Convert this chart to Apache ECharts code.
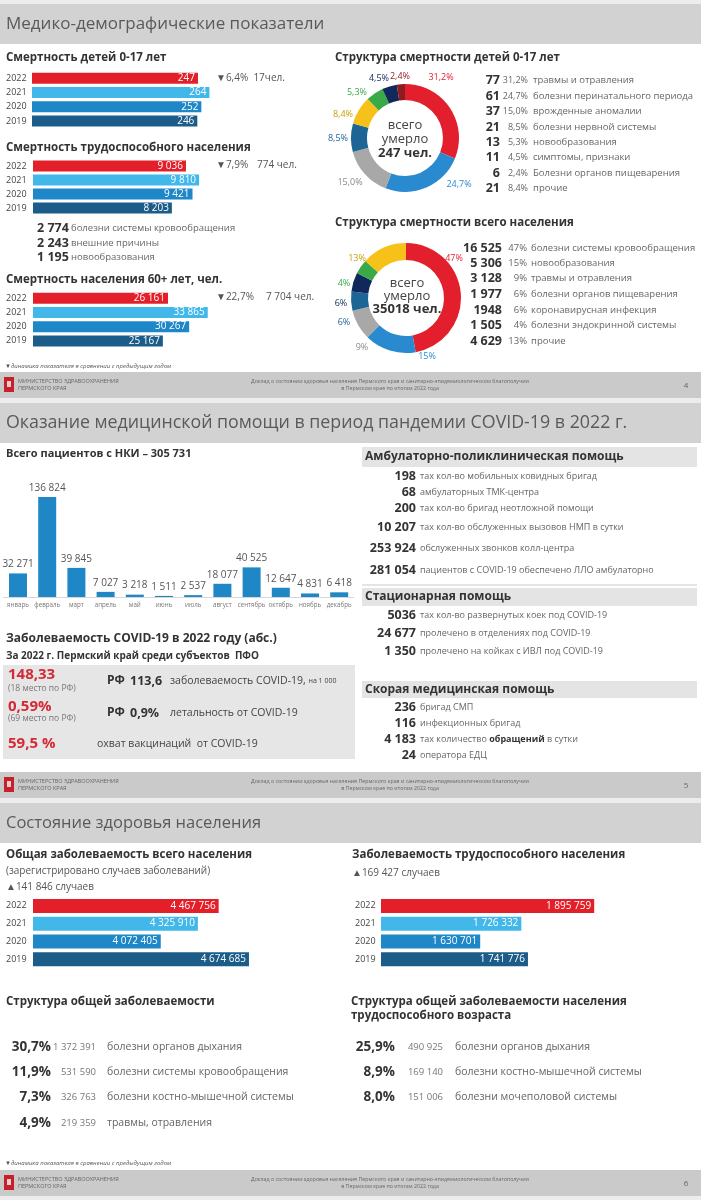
<!DOCTYPE html>
<html><head><meta charset="utf-8">
<script src="https://cdn.jsdelivr.net/npm/echarts@6/dist/echarts.min.js"></script>
<style>html,body{margin:0;padding:0;background:#fff}#c{width:701px;height:1200px}</style>
</head><body><div id="c"></div>
<script>
// ---------- DATA ----------
const years = ['2022', '2021', '2020', '2019'];
const childDeaths = [247, 264, 252, 246];
const workDeaths = [9036, 9810, 9421, 8203];
const elderDeaths = [26161, 33865, 30267, 25167];
const workCauseCounts = ['2 774', '2 243', '1 195'];
const workCauseNames = ['болезни системы кровообращения', 'внешние причины', 'новообразования'];

const childCauseNames = ['травмы и отравления', 'болезни перинатального периода', 'врожденные аномалии', 'болезни нервной системы', 'новообразования', 'симптомы, признаки', 'Болезни органов пищеварения', 'прочие'];
const childCauseValues = [77, 61, 37, 21, 13, 11, 6, 21];
const childCausePct = ['31,2%', '24,7%', '15,0%', '8,5%', '5,3%', '4,5%', '2,4%', '8,4%'];

const allCauseNames = ['болезни системы кровообращения', 'новообразования', 'травмы и отравления', 'болезни органов пищеварения', 'коронавирусная инфекция', 'болезни эндокринной системы', 'прочие'];
const allCauseValues = [16525, 5306, 3128, 1977, 1948, 1505, 4629];
const allCauseCountText = ['16 525', '5 306', '3 128', '1 977', '1948', '1 505', '4 629'];
const allCausePct = ['47%', '15%', '9%', '6%', '6%', '4%', '13%'];

const months = ['январь', 'февраль', 'март', 'апрель', 'май', 'июнь', 'июль', 'август', 'сентябрь', 'октябрь', 'ноябрь', 'декабрь'];
const covidPatients = [32271, 136824, 39845, 7027, 3218, 1511, 2537, 18077, 40525, 12647, 4831, 6418];

const ambCounts = ['198', '68', '200', '10 207', '253 924', '281 054'];
const ambNames = ['тах кол-во мобильных ковидных бригад', 'амбулаторных ТМК-центра', 'тах кол-во бригад неотложной помощи', 'тах кол-во обслуженных вызовов НМП в сутки', 'обслуженных звонков колл-центра', 'пациентов с COVID-19 обеспечено ЛЛО амбулаторно'];
const statCounts = ['5036', '24 677', '1 350'];
const statNames = ['тах кол-во развернутых коек под COVID-19', 'пролечено в отделениях под COVID-19', 'пролечено на койках с ИВЛ под COVID-19'];
const emergCounts = ['236', '116', '4 183', '24'];
const emergNames = ['бригад СМП', 'инфекционных бригад', 'тах количество {b|обращений} в сутки', 'оператора ЕДЦ'];

const totalMorbidity = [4467756, 4325910, 4072405, 4674685];
const workMorbidity = [1895759, 1726332, 1630701, 1741776];
const totalStructPct = ['30,7%', '11,9%', '7,3%', '4,9%'];
const totalStructCounts = ['1 372 391', '531 590', '326 763', '219 359'];
const totalStructNames = ['болезни органов дыхания', 'болезни системы кровообращения', 'болезни костно-мышечной системы', 'травмы, отравления'];
const workStructPct = ['25,9%', '8,9%', '8,0%'];
const workStructCounts = ['490 925', '169 140', '151 006'];
const workStructNames = ['болезни органов дыхания', 'болезни костно-мышечной системы', 'болезни мочеполовой системы'];

// ---------- STYLE ----------
const F = '"Open Sans", "Noto Sans", sans-serif';
const yearColors = ['#e3202a', '#42b7ea', '#1d87c8', '#1b5c89'];
const childColors = ['#e31e2d', '#2a8ad0', '#a8a8a8', '#1c6594', '#3aaa49', '#10285a', '#8e1b1f', '#f6c21a'];
const childLabelColors = ['#e31e2d', '#2a8ad0', '#8a8a8a', '#1c6594', '#3aaa49', '#10285a', '#8e1b1f', '#c9a000'];
const allColors = ['#e31e2d', '#2a8ad0', '#a8a8a8', '#1c6594', '#10285a', '#3aaa49', '#f6c21a'];
const allLabelColors = ['#e31e2d', '#2a8ad0', '#8a8a8a', '#1c6594', '#10285a', '#3aaa49', '#c9a000'];
const fmt = v => String(v).replace(/\B(?=(\d{3})+(?!\d))/g, ' ');

const els = [];
function rect(x, y, w, h, fill) { els.push({ type: 'rect', shape: { x, y, width: w, height: h }, style: { fill }, silent: true, z: -10 }); }
function txt(x, y, text, o) {
  o = o || {};
  const size = o.size || 10, weight = o.weight || 'normal', it = o.italic ? 'italic ' : '';
  const al = o.align || 'left';
  els.push({ type: 'text', x, y, silent: true, style: {
    text, font: it + weight + ' ' + size + 'px ' + F, fill: o.color || '#444',
    textAlign: al, textVerticalAlign: 'middle', align: al, verticalAlign: 'middle', rich: o.rich } });
}
function header(y0, title, size) {
  rect(0, y0 - 5, 701, 5, '#ececec');
  rect(0, y0, 701, 40, '#d2d2d2');
  txt(6, y0 + 20, title, { size: size, color: '#5a5a5a' });
}
function footer(y0, page) {
  rect(0, y0, 701, 26, '#cacaca');
  rect(4, y0 + 5, 10, 15, '#c8202a');
  rect(7, y0 + 9, 4, 6, '#f3d0d0');
  txt(18, y0 + 9, 'МИНИСТЕРСТВО ЗДРАВООХРАНЕНИЯ', { size: 5.5, color: '#666' });
  txt(18, y0 + 16, 'ПЕРМСКОГО КРАЯ', { size: 5.5, color: '#666' });
  txt(390, y0 + 9, 'Доклад о состоянии здоровья населения Пермского края и санитарно-эпидемиологическом благополучии', { size: 5.3, color: '#666', align: 'center' });
  txt(390, y0 + 16, 'в Пермском крае по итогам 2022 года', { size: 5.3, color: '#666', align: 'center' });
  txt(686, y0 + 14, page, { size: 8, color: '#666', align: 'center' });
}
const H = { size: 11.5, weight: 'bold', color: '#333' };

// ----- slide 4 -----
header(4, 'Медико-демографические показатели', 17);
txt(6, 58, 'Смертность детей 0-17 лет', H);
txt(216, 78, '▼6,4%  17чел.', { size: 10, color: '#555' });
txt(6, 148, 'Смертность трудоспособного населения', H);
txt(216, 165, '▼7,9%', { size: 10, color: '#555' });
txt(257, 165, '774 чел.', { size: 10, color: '#555' });
[228, 243, 257].forEach((y, i) => {
  txt(37, y, workCauseCounts[i], { size: 12.5, weight: 'bold', color: '#333' });
  txt(71, y, workCauseNames[i], { size: 9.5, color: '#666' });
});
txt(6, 280, 'Смертность населения 60+ лет, чел.', H);
txt(216, 297, '▼22,7%', { size: 10, color: '#555' });
txt(266, 297, '7 704 чел.', { size: 10, color: '#555' });
txt(5, 366, '▼динамика показателя в сравнении с предыдущим годом', { size: 6, italic: true, color: '#555' });
footer(372, '4');

txt(335, 58, 'Структура смертности детей 0-17 лет', H);
txt(405, 125, 'всего', { size: 13, color: '#444', align: 'center' });
txt(405, 139, 'умерло', { size: 13, color: '#444', align: 'center' });
txt(405, 153, '247 чел.', { size: 13, weight: 'bold', color: '#333', align: 'center' });
const r1 = [80, 96, 111, 127, 142, 157, 173, 188];
r1.forEach((y, i) => {
  txt(500, y, String(childCauseValues[i]), { size: 12.5, weight: 'bold', color: '#333', align: 'right' });
  txt(528, y, childCausePct[i], { size: 9, color: '#666', align: 'right' });
  txt(533, y, childCauseNames[i], { size: 9.5, color: '#666' });
});
txt(335, 223, 'Структура смертности всего населения', H);
txt(407, 283, 'всего', { size: 13, color: '#444', align: 'center' });
txt(407, 296, 'умерло', { size: 13, color: '#444', align: 'center' });
txt(407, 309, '35018 чел.', { size: 13, weight: 'bold', color: '#333', align: 'center' });
const r2 = [248, 263, 278, 294, 310, 325, 341];
r2.forEach((y, i) => {
  txt(502, y, allCauseCountText[i], { size: 12.5, weight: 'bold', color: '#333', align: 'right' });
  txt(527, y, allCausePct[i], { size: 9.5, color: '#666', align: 'right' });
  txt(531, y, allCauseNames[i], { size: 9.5, color: '#666' });
});

// ----- slide 5 -----
header(403, 'Оказание медицинской помощи в период пандемии COVID-19 в 2022 г.', 17.8);
txt(6, 454, 'Всего пациентов с НКИ – 305 731', { size: 11, weight: 'bold', color: '#333' });
txt(6, 639, 'Заболеваемость COVID-19 в 2022 году (абс.)', { size: 12, weight: 'bold', color: '#333' });
txt(6, 656, 'За 2022 г. Пермский край среди субъектов  ПФО', { size: 10, weight: 'bold', color: '#333' });
rect(3, 665, 352, 94, '#e6e6e6');
const RED = '#d42a36';
txt(8, 675, '148,33', { size: 15, weight: 'bold', color: RED });
txt(8, 689, '(18 место по РФ)', { size: 8.5, color: '#777' });
txt(107, 681, 'РФ', { size: 12, weight: 'bold', color: '#333' });
txt(130, 681, '113,6', { size: 12.5, weight: 'bold', color: '#333' });
txt(170, 681, 'заболеваемость COVID-19, {s|на 1 000}', { size: 10.5, color: '#444', rich: { s: { font: '7px ' + F, fill: '#444' } } });
txt(8, 707, '0,59%', { size: 15, weight: 'bold', color: RED });
txt(8, 719, '(69 место по РФ)', { size: 8.5, color: '#777' });
txt(107, 713, 'РФ', { size: 12, weight: 'bold', color: '#333' });
txt(130, 713, '0,9%', { size: 12.5, weight: 'bold', color: '#333' });
txt(170, 713, 'летальность от COVID-19', { size: 10.5, color: '#444' });
txt(8, 744, '59,5 %', { size: 15, weight: 'bold', color: RED });
txt(97, 744, 'охват вакцинаций  от COVID-19', { size: 10.5, color: '#444' });

function band(y0, h, title) {
  rect(362, y0, 335, h, '#e4e4e4');
  txt(365, y0 + h / 2, title, { size: 12, weight: 'bold', color: '#333' });
}
function rows(ys, counts, names) {
  ys.forEach((y, i) => {
    txt(416, y, counts[i], { size: 12.5, weight: 'bold', color: '#333', align: 'right' });
    txt(420, y, names[i], { size: 9, color: '#666', rich: { b: { font: 'bold 9px ' + F, fill: '#333' } } });
  });
}
band(447, 20, 'Амбулаторно-поликлиническая помощь');
rows([476, 492, 508, 527, 548, 570], ambCounts, ambNames);
rect(362, 584, 335, 2, '#e4e4e4');
band(588, 18, 'Стационарная помощь');
rows([615, 633, 651], statCounts, statNames);
band(681, 17, 'Скорая медицинская помощь');
rows([707, 723, 739, 755], emergCounts, emergNames);
footer(772, '5');

// ----- slide 6 -----
header(803, 'Состояние здоровья населения', 16.5);
txt(6, 855, 'Общая заболеваемость всего населения', H);
txt(6, 871, '(зарегистрировано случаев заболеваний)', { size: 10, color: '#555' });
txt(6, 887, '▲141 846 случаев', { size: 10, color: '#555' });
txt(352, 855, 'Заболеваемость трудоспособного населения', H);
txt(352, 873, '▲169 427 случаев', { size: 10, color: '#555' });
txt(6, 1002, 'Структура общей заболеваемости', H);
[1047, 1072, 1097, 1123].forEach((y, i) => {
  txt(51, y, totalStructPct[i], { size: 13.5, weight: 'bold', color: '#333', align: 'right' });
  txt(96, y, totalStructCounts[i], { size: 9.5, color: '#777', align: 'right' });
  txt(107, y, totalStructNames[i], { size: 10.5, color: '#666' });
});
txt(351, 1002, 'Структура общей заболеваемости населения', H);
txt(351, 1016, 'трудоспособного возраста', H);
[1047, 1072, 1097].forEach((y, i) => {
  txt(395, y, workStructPct[i], { size: 13.5, weight: 'bold', color: '#333', align: 'right' });
  txt(443, y, workStructCounts[i], { size: 9.5, color: '#777', align: 'right' });
  txt(455, y, workStructNames[i], { size: 10.5, color: '#666' });
});
txt(5, 1163, '▼динамика показателя в сравнении с предыдущим годом', { size: 6, italic: true, color: '#555' });
footer(1170, '6');
rect(0, 1196, 701, 4, '#ececec');

// ---------- CHART ----------
const grids = [
  { left: 32, top: 71, width: 201.6, height: 57.2 },
  { left: 33, top: 159, width: 169.3, height: 56 },
  { left: 33, top: 291, width: 206.4, height: 57 },
  { left: 3.4, top: 487.4, width: 350.4, height: 109.6 },
  { left: 33, top: 897, width: 263.6, height: 71 },
  { left: 381, top: 897, width: 258, height: 71 }
];
const hb = [
  { data: childDeaths, min: 0, max: 300, bw: 11, margin: 26 },
  { data: workDeaths, min: 0, max: 10000, bw: 11, margin: 27 },
  { data: elderDeaths, min: 0, max: 40000, bw: 11, margin: 27 },
  null,
  { data: totalMorbidity, min: 3200000, max: 5000000, bw: 14, margin: 27 },
  { data: workMorbidity, min: 1400000, max: 2000000, bw: 14, margin: 26 }
];
const xAxis = [], yAxis = [], series = [];
hb.forEach((b, i) => {
  if (!b) {
    xAxis.push({ gridIndex: i, type: 'category', data: months, axisTick: { show: false },
      axisLine: { lineStyle: { color: '#d6d6d6' } },
      axisLabel: { interval: 0, fontSize: 6.2, color: '#777', margin: 5, fontFamily: F } });
    yAxis.push({ gridIndex: i, type: 'value', min: 0, max: 150000, show: false });
    series.push({ type: 'bar', xAxisIndex: i, yAxisIndex: i, data: covidPatients, barWidth: 18,
      itemStyle: { color: '#1f87c5' },
      label: { show: true, position: 'top', distance: 4, fontSize: 10, color: '#555', fontFamily: F, formatter: p => fmt(p.value) } });
    return;
  }
  xAxis.push({ gridIndex: i, type: 'value', min: b.min, max: b.max, show: false });
  yAxis.push({ gridIndex: i, type: 'category', data: years, inverse: true,
    axisLine: { show: false }, axisTick: { show: false },
    axisLabel: { align: 'left', margin: b.margin, fontSize: 9, color: '#444', fontFamily: F } });
  series.push({ type: 'bar', xAxisIndex: i, yAxisIndex: i, data: b.data, barWidth: b.bw,
    itemStyle: { color: p => yearColors[p.dataIndex] },
    label: { show: true, position: 'insideRight', distance: 3, fontSize: 10, color: '#fff', fontFamily: F, formatter: p => fmt(p.value) } });
});

// donut 1: ring drawn in descending order of value
const ring1 = childCauseValues.map((v, i) => i).sort((a, b) => childCauseValues[b] - childCauseValues[a]);
const ring1LabelPos = [[441, 77], [459, 184], [350, 182], [338, 138], [343, 114], [357, 92], [379, 78], [400, 76]];
series.push({ type: 'pie', center: [405, 138], radius: [38, 54], startAngle: 90, clockwise: true,
  avoidLabelOverlap: false, labelLine: { show: false },
  data: ring1.map(i => ({ name: childCauseNames[i], value: childCauseValues[i], pct: childCausePct[i],
    itemStyle: { color: childColors[i] }, label: { color: childLabelColors[i] } })),
  label: { show: true, fontSize: 9, fontFamily: F, formatter: p => p.data.pct },
  labelLayout: p => ({ x: ring1LabelPos[p.dataIndex][0], y: ring1LabelPos[p.dataIndex][1], align: 'center', verticalAlign: 'middle' })
});
const ring2LabelPos = [[454, 258], [427, 356], [362, 347], [344, 322], [341, 303], [344, 283], [357, 258]];
series.push({ type: 'pie', center: [406, 298], radius: [38, 55], startAngle: 90, clockwise: true,
  avoidLabelOverlap: false, labelLine: { show: false },
  data: allCauseValues.map((v, i) => ({ name: allCauseNames[i], value: v, pct: allCausePct[i],
    itemStyle: { color: allColors[i] }, label: { color: allLabelColors[i] } })),
  label: { show: true, fontSize: 9, fontFamily: F, formatter: p => p.data.pct },
  labelLayout: p => ({ x: ring2LabelPos[p.dataIndex][0], y: ring2LabelPos[p.dataIndex][1], align: 'center', verticalAlign: 'middle' })
});

const chart = echarts.init(document.getElementById('c'), null, { renderer: 'canvas' });
chart.setOption({
  animation: false,
  backgroundColor: '#ffffff',
  textStyle: { fontFamily: F },
  grid: grids, xAxis, yAxis, series,
  graphic: { elements: els }
});
</script></body></html>
